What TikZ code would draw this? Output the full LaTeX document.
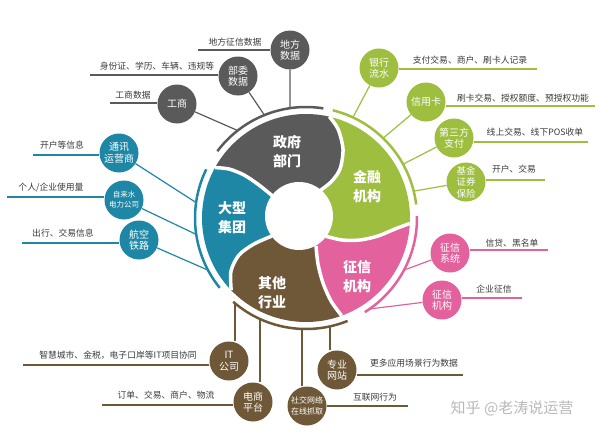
\documentclass[tikz,border=0pt]{standalone}
\usepackage{fontspec}
\setmainfont{Noto Sans CJK SC}
\usetikzlibrary{calc}
\definecolor{cgray}{HTML}{5A5A5A}
\definecolor{cgreen}{HTML}{9DBE3E}
\definecolor{cpink}{HTML}{E3629E}
\definecolor{cbrown}{HTML}{6F5838}
\definecolor{cteal}{HTML}{1F87A6}
\definecolor{ctext}{HTML}{3A3A3A}
\tikzset{
  sat/.style={circle, fill=#1, minimum size=39pt, inner sep=0pt, text=white, align=center, font=\fontsize{10}{11.5}\selectfont},
  lead/.style={draw=#1, line width=1.3pt},
  conn/.style={draw=#1, line width=1.2pt},
  ringarc/.style={draw=#1, line width=2.5pt},
  lbl/.style={text=ctext, inner sep=0pt, font=\fontsize{8.8}{10}\selectfont},
  blobtext/.style={text=white, align=center, font=\bfseries\fontsize{14}{19}\selectfont},
  gapline/.style={draw=white, line width=3.5pt},
}
\begin{document}
\begin{tikzpicture}[x=1pt,y=-1pt]
\useasboundingbox (0,0) rectangle (600,434);
\coordinate (C) at (306,218);
\coordinate (W) at (299,216);

% ---- blobs ----
\fill[cgray] (W) -- plot[smooth] coordinates {(275,198) (259,185) (244,175) (229,169) (215,167.6)}
  -- plot[domain=209:283,samples=40,variable=\t] ({306+104*cos(\t)},{218+104*sin(\t)})
  -- plot[smooth] coordinates {(329.4,116.7) (338,129) (343,149) (340,169) (331,182) (318,192)} -- cycle;
\fill[cgreen] (W) -- plot[smooth] coordinates {(318,192) (331,182) (340,169) (343,149) (338,129) (329.4,116.7)}
  -- plot[domain=283:363,samples=40,variable=\t] ({306+104*cos(\t)},{218+104*sin(\t)})
  -- plot[smooth] coordinates {(409.9,223.4) (395,229) (378,236) (360,240) (342,240) (325,236)} -- cycle;
\fill[cpink] (W) -- plot[smooth] coordinates {(325,236) (342,240) (360,240) (378,236) (395,229) (409.9,223.4)}
  -- plot[domain=3:70,samples=40,variable=\t] ({306+104*cos(\t)},{218+104*sin(\t)})
  -- plot[smooth] coordinates {(341.6,315.7) (331,301) (323,283) (318,264) (316,246)} -- cycle;
\fill[cbrown] (W) -- plot[smooth] coordinates {(316,246) (318,264) (323,283) (331,301) (341.6,315.7)}
  -- plot[domain=70:136,samples=40,variable=\t] ({306+104*cos(\t)},{218+104*sin(\t)})
  -- plot[smooth] coordinates {(231.2,290.2) (231,271) (239,255) (254,244) (272,236)} -- cycle;
\fill[cteal] (W) -- plot[smooth] coordinates {(272,236) (254,244) (239,255) (231,271) (231.2,290.2)}
  -- plot[domain=136:209,samples=40,variable=\t] ({306+104*cos(\t)},{218+104*sin(\t)})
  -- plot[smooth] coordinates {(215,167.6) (229,169) (244,175) (259,185) (275,198)} -- cycle;
% white gaps
\draw[gapline] plot[smooth] coordinates {(275,198) (259,185) (244,175) (229,169) (215,167.6)};
\draw[gapline] plot[smooth] coordinates {(318,192) (331,182) (340,169) (343,149) (338,129) (329.4,116.7)};
\draw[gapline] plot[smooth] coordinates {(325,236) (342,240) (360,240) (378,236) (395,229) (409.9,223.4)};
\draw[gapline] plot[smooth] coordinates {(316,246) (318,264) (323,283) (331,301) (341.6,315.7)};
\draw[gapline] plot[smooth] coordinates {(272,236) (254,244) (239,255) (231,271) (231.2,290.2)};
\fill[white] (W) circle[radius=34];

\node[blobtext] (b1) at (287,152) {政府\\部门};
\node[blobtext] (b2) at (367,187) {金融\\机构};
\node[blobtext] (b3) at (357,277) {征信\\机构};
\node[blobtext] (b4) at (272,293) {其他\\行业};
\node[blobtext] (b5) at (232,218) {大型\\集团};

% ---- outer thin arcs ----
\draw[ringarc=cgray]  plot[domain=217:279,samples=40,variable=\t] ({306+111*cos(\t)},{218+111*sin(\t)});
\draw[ringarc=cgreen] plot[domain=284:353,samples=40,variable=\t] ({306+111*cos(\t)},{218+111*sin(\t)});
\draw[ringarc=cpink]  plot[domain=359:418,samples=40,variable=\t] ({306+111*cos(\t)},{218+111*sin(\t)});
\draw[ringarc=cbrown] plot[domain=68:131,samples=40,variable=\t] ({306+111*cos(\t)},{218+111*sin(\t)});
\draw[ringarc=cteal]  plot[domain=141:206,samples=40,variable=\t] ({306+111*cos(\t)},{218+111*sin(\t)});

% ---- ring anchor points ----
\coordinate (r1) at ($(C)+(261.7:111)$);
\coordinate (r2) at ($(C)+(248:111)$);
\coordinate (r3) at ($(C)+(232:111)$);
\coordinate (r4) at ($(C)+(295:111)$);
\coordinate (r5) at ($(C)+(314:111)$);
\coordinate (r6) at ($(C)+(331:111)$);
\coordinate (r7) at ($(C)+(346:111)$);
\coordinate (r8) at ($(C)+(28:111)$);
\coordinate (r9) at ($(C)+(55:111)$);
\coordinate (r10) at ($(C)+(129.76:111)$);
\coordinate (r11) at ($(C)+(114.48:111)$);
\coordinate (r12) at ($(C)+(92.07:111)$);
\coordinate (r13) at ($(C)+(77.51:111)$);
\coordinate (r14) at ($(C)+(188:111)$);
\coordinate (r15) at ($(C)+(171.5:111)$);
\coordinate (r16) at ($(C)+(152:111)$);

% ---- satellites ----
\node[sat=cgray] (s1) at (290,50) {地方\\数据};
\node[sat=cgray] (s2) at (238,76) {部委\\数据};
\node[sat=cgray] (s3) at (177,104) {工商};
\node[sat=cgreen] (s4) at (379,68) {银行\\流水};
\node[sat=cgreen] (s5) at (426,102) {信用卡};
\node[sat=cgreen] (s6) at (454,138) {第三方\\支付};
\node[sat=cgreen, font=\fontsize{9.5}{11.5}\selectfont] (s7) at (466,182) {基金\\证券\\保险};
\node[sat=cpink] (s8) at (450,253) {征信\\系统};
\node[sat=cpink] (s9) at (442,300) {征信\\机构};
\node[sat=cbrown] (s10) at (229,361) {IT\\公司};
\node[sat=cbrown] (s11) at (253,402) {电商\\平台};
\node[sat=cbrown, font=\fontsize{8}{10.5}\selectfont] (s12) at (307,406) {社交网络\\在线抓取};
\node[sat=cbrown] (s13) at (337,370) {专业\\网站};
\node[sat=cteal] (s14) at (119,153) {通讯\\运营商};
\node[sat=cteal, font=\fontsize{7.5}{10}\selectfont] (s15) at (124,200) {自来水\\电力公司};
\node[sat=cteal] (s16) at (139,240) {航空\\铁路};

% ---- connectors to ring ----
\draw[conn=cgray] (r1) -- (s1);
\draw[conn=cgray] (r2) -- (s2);
\draw[conn=cgray] (r3) -- (s3);
\draw[conn=cgreen] (r4) -- (s4);
\draw[conn=cgreen] (r5) -- (s5);
\draw[conn=cgreen] (r6) -- (s6);
\draw[conn=cgreen] (r7) -- (s7);
\draw[conn=cpink] (r8) -- (s8);
\draw[conn=cpink] (r9) -- (s9);
\draw[conn=cbrown] (r10) -- (r10 |- s10.north);
\draw[conn=cbrown] (r11) -- (r11 |- s11.north);
\draw[conn=cbrown] (r12) -- (r12 |- s12.north);
\draw[conn=cbrown] (r13) -- (r13 |- s13.north);
\draw[conn=cteal] (r14) -- (s14);
\draw[conn=cteal] (r15) -- (s15);
\draw[conn=cteal] (r16) -- (s16);

% ---- leader lines ----
\coordinate (e1) at (198,50);
\coordinate (e2) at (90,75);
\coordinate (e3) at (110,103);
\coordinate (e4) at (537,69);
\coordinate (e5) at (595,106);
\coordinate (e6) at (588,142);
\coordinate (e7) at (545,180);
\coordinate (e8) at (548,250);
\coordinate (e9) at (522,298);
\coordinate (e10) at (23,365);
\coordinate (e11) at (102,405);
\coordinate (e12) at (408,406);
\coordinate (e13) at (463,375);
\coordinate (e14) at (33,155);
\coordinate (e15) at (7,197);
\coordinate (e16) at (22,243);
\draw[lead=cgray] (e1) -- (e1 -| s1.west);
\draw[lead=cgray] (e2) -- (e2 -| s2.west);
\draw[lead=cgray] (e3) -- (e3 -| s3.west);
\draw[lead=cgreen] (e4) -- (e4 -| s4.east);
\draw[lead=cgreen] (e5) -- (e5 -| s5.east);
\draw[lead=cgreen] (e6) -- (e6 -| s6.east);
\draw[lead=cgreen] (e7) -- (e7 -| s7.east);
\draw[lead=cpink] (e8) -- (e8 -| s8.east);
\draw[lead=cpink] (e9) -- (e9 -| s9.east);
\draw[lead=cbrown] (e10) -- (e10 -| s10.west);
\draw[lead=cbrown] (e11) -- (e11 -| s11.west);
\draw[lead=cbrown] (e12) -- (e12 -| s12.east);
\draw[lead=cbrown] (e13) -- (e13 -| s13.east);
\draw[lead=cteal] (e14) -- (e14 -| s14.west);
\draw[lead=cteal] (e15) -- (e15 -| s15.west);
\draw[lead=cteal] (e16) -- (e16 -| s16.west);

% ---- labels ----
\node[lbl] (l1) at (235,42) {地方征信数据};
\node[lbl] (l2) at (157,66) {身份证、学历、车辆、违规等};
\node[lbl] (l3) at (133,95) {工商数据};
\node[lbl] (l4) at (470,60) {支付交易、商户、刷卡人记录};
\node[lbl] (l5) at (523,98) {刷卡交易、授权额度、预授权功能};
\node[lbl] (l6) at (535,132) {线上交易、线下POS收单};
\node[lbl] (l7) at (514,169) {开户、交易};
\node[lbl] (l8) at (512,243) {信贷、黑名单};
\node[lbl] (l9) at (494,289) {企业征信};
\node[lbl] (l10) at (118,355) {智慧城市、金税，电子口岸等IT项目协同};
\node[lbl] (l11) at (166,395) {订单、交易、商户、物流};
\node[lbl] (l12) at (375,397) {互联网行为};
\node[lbl] (l13) at (414,363) {更多应用场景行为数据};
\node[lbl] (l14) at (62,145) {开户等信息};
\node[lbl] (l15) at (51,188) {个人/企业使用量};
\node[lbl] (l16) at (63,233) {出行、交易信息};

% ---- watermark ----
\node[text=black!28, inner sep=0pt, font=\fontsize{15}{17}\selectfont] (wm) at (512,408) {知乎 @老涛说运营};
\end{tikzpicture}
\end{document}
